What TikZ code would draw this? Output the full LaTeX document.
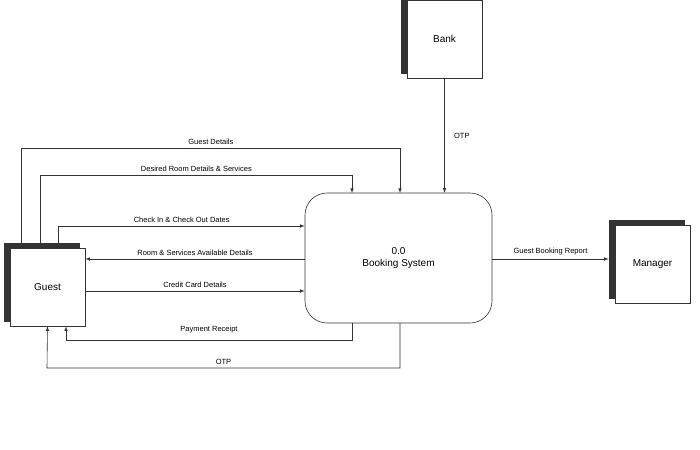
\documentclass[tikz,border=0pt]{standalone}
\usepackage{fontspec}
\setmainfont{Liberation Sans}
\usetikzlibrary{shadows}

\begin{document}
\begin{tikzpicture}[x=1pt,y=-1pt,->,>=latex,line width=0.6pt,draw=black!80,
    entity/.style={draw,fill=white,minimum width=75pt,minimum height=78pt,inner sep=0pt,font=\fontsize{10}{12}\selectfont,
        general shadow={shadow xshift=-6pt,shadow yshift=5pt,fill=gray!40!black,draw}},
    process/.style={draw,rounded corners=22pt,minimum width=187pt,minimum height=130pt,align=center,font=\fontsize{10}{12}\selectfont},
    flow/.style={font=\fontsize{7.5}{9}\selectfont}]
    \useasboundingbox (0,0) rectangle (700,449);
    \node[entity] (guest) at (47.5,287) {Guest};
    \node[entity] (bank) at (444.5,39) {Bank};
    \node[entity] (manager) at (652.5,264) {Manager};
    \node[process] (sys) at (398.5,258) {0.0\\Booking System};

    \draw (guest.north west) ++(12,0) |- (400,148) node[flow,pos=0.75,above] {Guest Details} -- (400,193);
    \draw (guest.north west) ++(31,0) |- (352,175) node[flow,pos=0.75,above] {Desired Room Details \& Services} -- (352,193);
    \draw (guest.north west) ++(49,0) |- (sys.west |- 0,226) node[flow,pos=0.75,above] {Check In \& Check Out Dates};
    \draw (sys.west |- 0,259) -- (guest.east |- 0,259) node[flow,midway,above] {Room \& Services Available Details};
    \draw (guest.east |- 0,291) -- (sys.west |- 0,291) node[flow,midway,above] {Credit Card Details};
    \draw (352,323) |- (66,340) node[flow,pos=0.75,above=3pt] {Payment Receipt} -- (guest.south west -| 66,0);
    \draw (400,323) |- (47,368) node[flow,pos=0.75,above] {OTP} -- (guest.south);
    \draw (bank.south) -- (sys.north -| bank.south) node[flow,midway,right=6pt] {OTP};
    \draw (sys.east |- 0,259) -- ([xshift=-6pt]manager.west |- 0,259) node[flow,midway,above] {Guest Booking Report};
\end{tikzpicture}
\end{document}
